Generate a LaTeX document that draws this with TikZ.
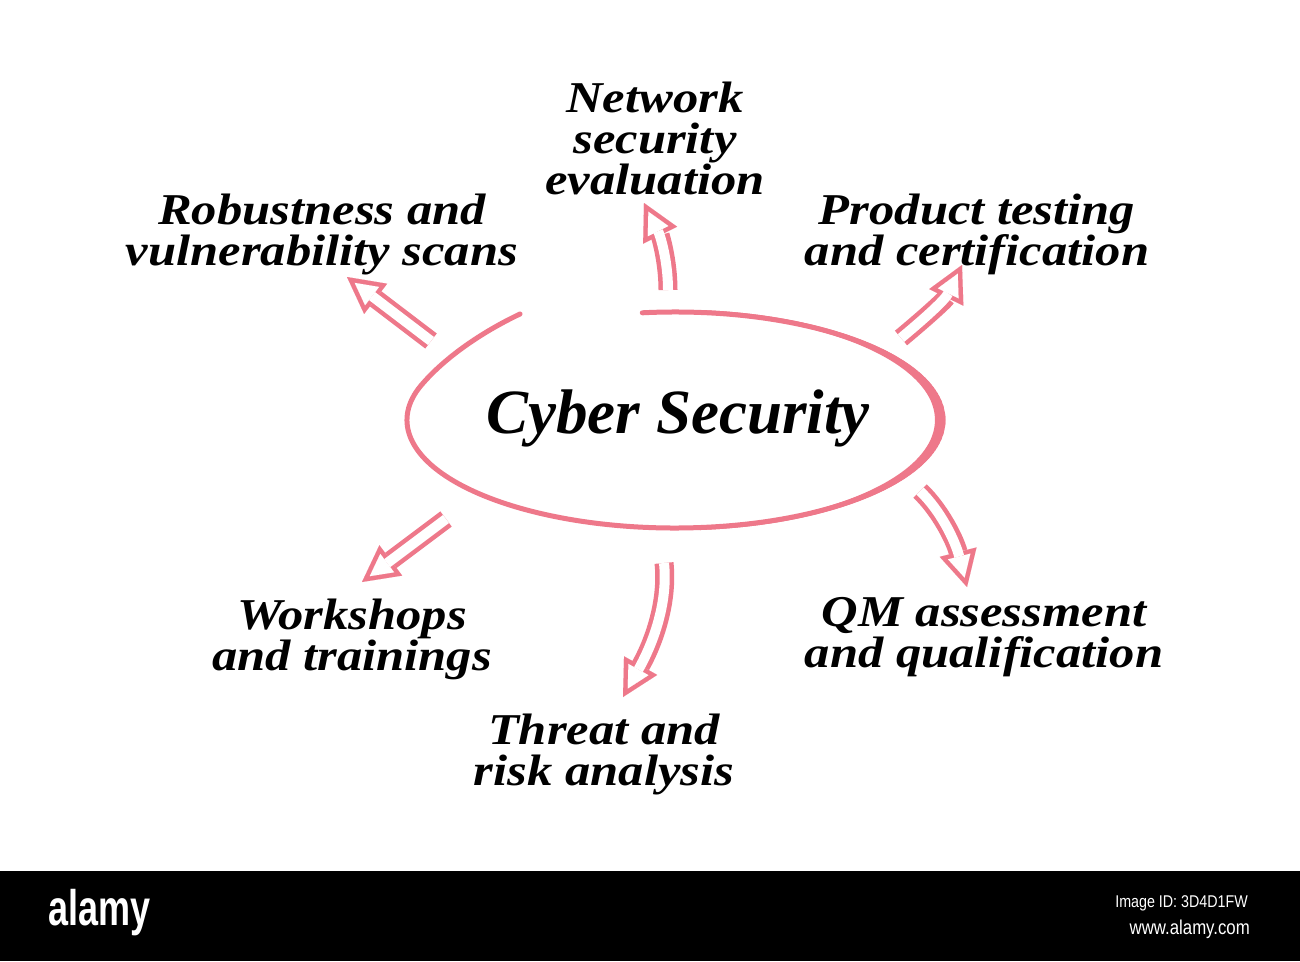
\documentclass[tikz,border=0pt]{standalone}
\usepackage{fontspec}
\setmainfont{Liberation Serif}
\newfontfamily\topicfont[FakeStretch=1.15]{Liberation Serif}
\newfontfamily\barfont[FakeStretch=0.72]{Liberation Sans}
\newfontfamily\smallbarfont[FakeStretch=0.84]{Liberation Sans}
\usetikzlibrary{arrows.meta,calc}
\definecolor{cspink}{RGB}{238,120,138}
\setlength{\lineskiplimit}{-100pt}
\tikzset{
  topic/.style={font=\topicfont\fontsize{44}{41}\selectfont\bfseries\itshape, align=center, inner sep=0pt},
  arrowout/.style={draw=cspink, line width=19pt, -{Triangle[length=36pt,width=38pt,line width=0.01pt]}},
  arrowin/.style={draw=white, line width=10pt, shorten >=9.7pt, -{Triangle[length=21.8pt,width=23pt,line width=0.01pt]}}
}
\newcommand{\hollowarrow}[1]{\draw[arrowout] #1; \draw[arrowin] #1;}

\begin{document}
\begin{tikzpicture}[x=1pt,y=-1pt]
\useasboundingbox (0,0) rectangle (1300,961);
\fill[white] (0,0) rectangle (1300,961);

% centre
\node[font=\fontsize{63}{63}\selectfont\bfseries\itshape, inner sep=0pt] (cyber) at (678,418) {Cyber Security};
\draw[cspink, line width=5pt, line cap=round] (642.3,312.8) arc[start angle=263, end angle=560, x radius=268, y radius=108]
  .. controls (445,358) and (480,333) .. (520,314);
% heavier stroke on the right
\begin{scope}
\clip (700,0) rectangle (1300,961);
\clip (675,420) ellipse [x radius=270.5, y radius=110.5];
\fill[cspink, even odd rule] (675,420) ellipse [x radius=270.5, y radius=110.5] (667,420) ellipse [x radius=268, y radius=108];
\end{scope}

% topics
\node[topic] (net) at (655,138) {Network\\security\\evaluation};
\node[topic] (rob) at (322,234.3) {Robustness and\\vulnerability scans};
\node[topic] (prod) at (977,234.3) {Product testing\\and certification};
\node[topic] (work) at (352,639.3) {Workshops\\and trainings};
\node[topic] (threat) at (604,754.3) {Threat and\\risk analysis};
\node[topic] (qm) at (984,637.3) {QM assessment\\and qualification};

% arrows
\coordinate (rob-tail) at (431,341);
\coordinate (rob-tip) at (347,277);
\coordinate (net-tail) at (668,290);
\coordinate (net-tip) at (644,203);
\coordinate (prod-tail) at (901,338);
\coordinate (prod-tip) at (962,265);
\coordinate (work-tail) at (446,519);
\coordinate (work-tip) at (362,582);
\coordinate (threat-tail) at (664,563);
\coordinate (threat-tip) at (623,697);
\coordinate (qm-tail) at (920,491);
\coordinate (qm-tip) at (967,587);
\hollowarrow{(rob-tail) -- (rob-tip)}
\hollowarrow{(net-tail) .. controls (668,260) and (660,235) .. (net-tip)}
\hollowarrow{(prod-tail) .. controls (925,318) and (945,300) .. (prod-tip)}
\hollowarrow{(work-tail) -- (work-tip)}
\hollowarrow{(threat-tail) .. controls (668,600) and (655,640) .. (threat-tip)}
\hollowarrow{(qm-tail) .. controls (940,510) and (955,540) .. (qm-tip)}

% bar
\fill[black] (0,871) rectangle (1300,961);
\node[font=\barfont\fontsize{50}{50}\selectfont\bfseries, text=white, anchor=west, inner sep=0pt] (brand) at (48,913) {alamy};
\node[font=\smallbarfont\fontsize{17}{17}\selectfont, text=white, anchor=east, inner sep=0pt] (imgid) at (1248,903) {Image ID: 3D4D1FW};
\node[font=\smallbarfont\fontsize{20}{20}\selectfont, text=white, anchor=east, inner sep=0pt] (site) at (1250,929) {www.alamy.com};
\end{tikzpicture}
\end{document}
